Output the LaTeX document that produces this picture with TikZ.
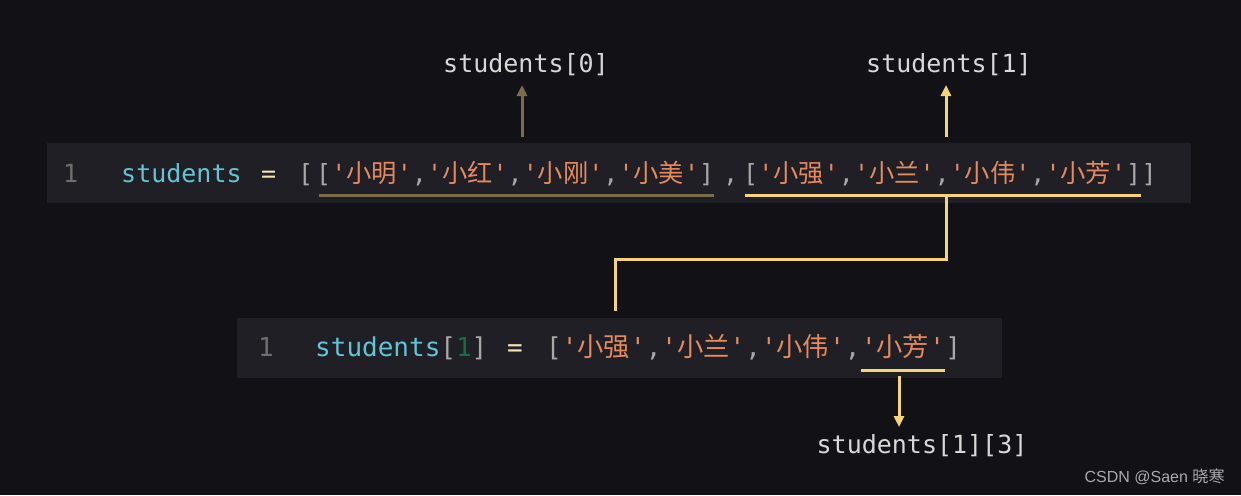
\documentclass[tikz,border=0pt]{standalone}
\usepackage{fontspec}
\setmonofont{DejaVu Sans Mono}
\setsansfont{Liberation Sans}
\newfontfamily\cjk[Scale=1.012]{Noto Sans CJK SC}
\usetikzlibrary{arrows.meta,calc}
\definecolor{bg}{RGB}{18,18,22}
\definecolor{box}{RGB}{31,31,37}
\definecolor{kw}{RGB}{98,197,212}
\definecolor{strc}{RGB}{229,138,94}
\definecolor{punc}{RGB}{168,168,168}
\definecolor{eqc}{RGB}{244,228,184}
\definecolor{lnum}{RGB}{110,110,110}
\definecolor{numc}{RGB}{20,110,70}
\definecolor{lbl}{RGB}{216,216,216}
\definecolor{yel}{RGB}{245,212,122}
\definecolor{oli}{RGB}{122,108,76}
\definecolor{wm}{RGB}{170,170,170}
\newcommand\qs[1]{\textcolor{strc}{'{\cjk #1}'}}
\newcommand\cm{\textcolor{punc}{,}}
\tikzset{
  code/.style={font=\ttfamily\fontsize{25}{30}\selectfont, inner sep=0pt, anchor=base west},
  codeb/.style={font=\ttfamily\fontsize{26}{31}\selectfont, inner sep=0pt, anchor=base west},
  lab/.style={font=\ttfamily\fontsize{25}{30}\selectfont, inner sep=0pt, anchor=base, text=lbl},
  codebox/.style={fill=box, draw=none},
  ul/.style={line width=3pt},
  arr/.style={line width=3pt, -{Triangle[length=11pt,width=10pt]}},
}
\begin{document}
\begin{tikzpicture}[x=1pt,y=-1pt]
\fill[bg] (0,0) rectangle (1241,495);
\useasboundingbox (0,0) rectangle (1241,495);
% code boxes
\path[codebox] (47,143) rectangle (1191,203);
\path[codebox] (237,318) rectangle (1002,378);
% line 1
\node[code,text=lnum] (n1) at (63,182) {1};
\node[code,text=kw] (st1) at (121,182) {students};
\node[code,text=eqc] (eq1) at (261,182) {=};
\node[code,text=punc] (ob) at (298,182) {[};
\node[code] (l1) at (316,182) {\textcolor{punc}{[}\qs{小明}\cm\qs{小红}\cm\qs{小刚}\cm\qs{小美}\textcolor{punc}{]}};
\node[code,text=punc] (c1) at (723,182) {,};
\node[code] (l2) at (743,182) {\textcolor{punc}{[}\qs{小强}\cm\qs{小兰}\cm\qs{小伟}\cm\qs{小芳}\textcolor{punc}{]}};
\node[code,text=punc] (cb) at (l2.base east) {]};
% line 2
\node[codeb,text=lnum] (n2) at (258,356) {1};
\node[codeb] (st2) at (315,356) {\textcolor{kw}{students}\textcolor{punc}{[}\textcolor{numc}{1}\textcolor{punc}{]}};
\node[codeb,text=eqc] (eq2) at (507,356) {=};
\node[codeb] (l3a) at (546,356) {\textcolor{punc}{[}\qs{小强}\cm\qs{小兰}\cm\qs{小伟}\cm};
\node[codeb] (l3b) at (l3a.base east) {\qs{小芳}};
\node[codeb,text=punc] (cb2) at (l3b.base east) {]};
% labels
\node[lab] (s0) at (526,72) {students[0]};
\node[lab] (s1) at (949,72) {students[1]};
\node[lab] (s13) at (922,453) {students[1][3]};
\node[font=\sffamily\fontsize{16}{19}\selectfont, text=wm, inner sep=0pt, anchor=base east] (wmk) at (1225,482) {CSDN @Saen {\cjk 晓寒}};
% underlines
\draw[ul,oli] ($(l1.base west)+(3,13)$) -- ($(l1.base east)+(0,13)$);
\draw[ul,yel] ($(l2.base west)+(2,13)$) -- ($(l2.base east)+(0,13)$);
\draw[ul,yel] ($(l3b.base west)+(0,14)$) -- ($(l3b.base east)+(0,14)$);
% arrows
\coordinate (a0s) at (522,137);
\coordinate (a0e) at (522,85);
\coordinate (a1s) at (946,137);
\coordinate (a1e) at (946,85);
\draw[arr,oli] (a0s) -- (a0e);
\draw[arr,yel] (a1s) -- (a1e);
% connector from students[1] to second line
\coordinate (k0) at (946,195);
\coordinate (k1) at (615,259);
\coordinate (k2) at (615,311);
\draw[ul,yel] (k0) |- (k1) -- (k2);
% arrow to students[1][3]
\coordinate (a2s) at (899,376);
\coordinate (a2e) at (899,427);
\draw[arr,yel] (a2s) -- (a2e);
\end{tikzpicture}
\end{document}
